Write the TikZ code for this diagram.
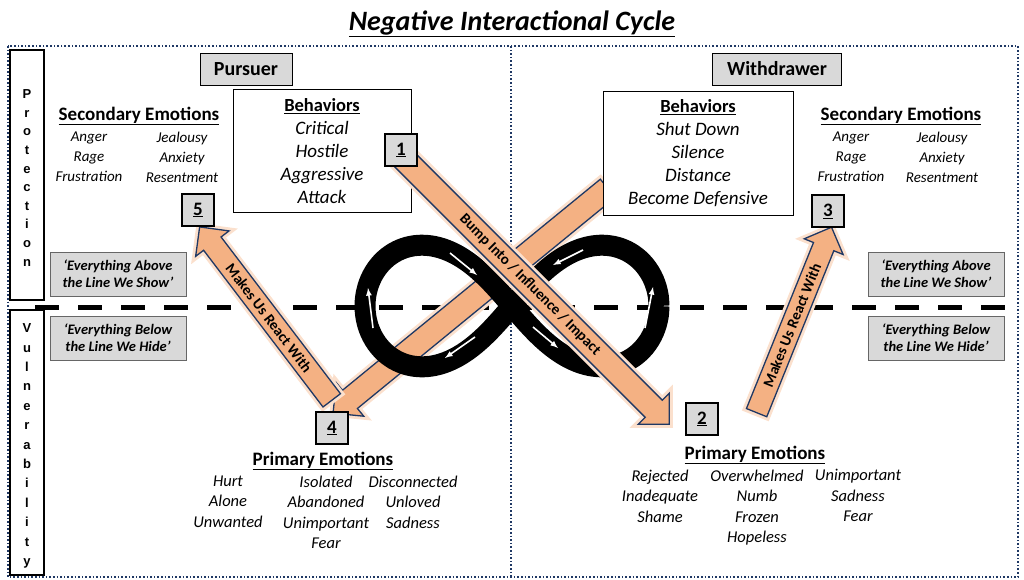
\documentclass[tikz,border=0pt]{standalone}
\usepackage{fontspec}
\setmainfont{Carlito}
\newfontfamily\blk{Liberation Sans}
\usetikzlibrary{shapes.arrows}
\definecolor{navy}{RGB}{31,56,100}
\definecolor{org}{RGB}{244,177,131}
\definecolor{gbox}{RGB}{217,217,217}
\begin{document}
\begin{tikzpicture}[x=1pt,y=-1pt,
 bx/.style={draw=black,line width=1pt},
 num/.style={draw=black,line width=1.2pt,fill=gbox,minimum size=32pt,inner sep=0pt,font=\fontsize{19}{19}\selectfont\bfseries},
 lab/.style={draw=black!60,fill=gbox,minimum width=136pt,minimum height=44pt,align=center,font=\fontsize{14.5}{17}\selectfont\itshape\bfseries},
 hd/.style={font=\fontsize{19}{19}\selectfont\bfseries},
 sec/.style={align=center,font=\fontsize{15}{20}\selectfont\itshape},
 pri/.style={align=center,font=\fontsize{16.5}{20.5}\selectfont\itshape,anchor=north},
 big/.style={single arrow,draw=navy,fill=org,line width=1.3pt,minimum width=0pt,single arrow head extend=10pt,single arrow tip angle=90,inner sep=5pt,
   font=\fontsize{15}{15}\selectfont\bfseries,preaction={draw=org!40,line width=7pt}},
 wa/.style={white,line width=1.6pt,-latex}]
\useasboundingbox (0,0) rectangle (1024,579);
\node[font=\fontsize{28}{28}\selectfont\bfseries\itshape] (title) at (512,24) {\underline{Negative Interactional Cycle}};
\draw[navy,dotted,line width=1.6pt] (8,46) rectangle (1018,577);
\draw[navy,dotted,line width=1.6pt] (511,46) -- (511,577);
% side boxes
\draw[line width=2pt] (10,50) rectangle (44,300);
\draw[line width=2pt] (10,310) rectangle (44,575);
\node[align=center,font=\blk\fontsize{13}{18.6}\selectfont\bfseries] (prot) at (27,178) {P\\r\\o\\t\\e\\c\\t\\i\\o\\n};
\node[align=center,font=\blk\fontsize{13}{19.4}\selectfont\bfseries] (vuln) at (27,446) {V\\u\\l\\n\\e\\r\\a\\b\\i\\l\\i\\t\\y};
% labels
\node[lab] (la1) at (118,274) {‘Everything Above\\the Line We Show’};
\node[lab] (lb1) at (118,338) {‘Everything Below\\the Line We Hide’};
\node[lab] (la2) at (936,274) {‘Everything Above\\the Line We Show’};
\node[lab] (lb2) at (936,338) {‘Everything Below\\the Line We Hide’};
\draw[line width=5pt,dash pattern=on 24pt off 19pt] (35,307) -- (1010,307);
% role boxes
\node[bx,fill=gbox,minimum width=92pt,minimum height=32pt,font=\fontsize{20}{20}\selectfont\bfseries] (pur) at (246,69) {Pursuer};
\node[bx,fill=gbox,minimum width=129pt,minimum height=32pt,font=\fontsize{20}{20}\selectfont\bfseries] (wit) at (777,69) {Withdrawer};
% arrow 2 (behind box)
\node[big,minimum height=355pt,rotate=219.3] (a2) at (475,297) {\phantom{Ag}};
% infinity
\draw[line width=21pt,black] plot[domain=0:360,samples=120,smooth cycle,variable=\t]
 ({512+147*cos(\t)/(1+sin(\t)^2)},{306+1.17*147*sin(\t)*cos(\t)/(1+sin(\t)^2)});
\draw[wa] (450,253) -- (477,275);
\draw[wa] (373,328) -- (368,288);
\draw[wa] (475,337) -- (445,358);
\draw[wa] (533,327) -- (558,348);
\draw[wa] (583,250) -- (553,265);
\draw[wa] (645,328) -- (653,287);
% behaviors boxes
\node[bx,fill=white,minimum width=178pt,minimum height=123pt,align=center,inner sep=0pt,font=\fontsize{19}{23}\selectfont\itshape] (bl) at (322,151)
 {\textup{\bfseries\fontsize{18.5}{18}\selectfont\underline{Behaviors}}\\Critical\\Hostile\\Aggressive\\Attack};
\node[bx,fill=white,minimum width=190pt,minimum height=124pt,align=center,inner sep=0pt,font=\fontsize{19}{23}\selectfont\itshape] (br) at (698,153)
 {\textup{\bfseries\fontsize{18.5}{18}\selectfont\underline{Behaviors}}\\Shut Down\\Silence\\Distance\\Become Defensive};
% arrow 1
\node[big,minimum height=382pt,rotate=-45] (a1) at (530,285) {Bump Into / Influence / Impact};
% makes us react arrows
\node[big,minimum height=218pt,rotate=-52.7,shape border rotate=180] (a5) at (269,318) {Makes Us React With};
\node[big,minimum height=200pt,rotate=68] (a3) at (792,325) {Makes Us React With};
% numbers
\node[num] (n1) at (401,150) {\underline{1}};
\node[num] (n2) at (702,419) {\underline{2}};
\node[num] (n3) at (828,211) {\underline{3}};
\node[num] (n4) at (332,428) {\underline{4}};
\node[num] (n5) at (198,210) {\underline{5}};
% secondary emotions
\node[hd] (sl) at (139,116) {\underline{Secondary Emotions}};
\node[sec] (sl1) at (89,157) {Anger\\Rage\\Frustration};
\node[sec] (sl2) at (182,157) {Jealousy\\Anxiety\\Resentment};
\node[hd] (sr) at (901,116) {\underline{Secondary Emotions}};
\node[sec] (sr1) at (851,157) {Anger\\Rage\\Frustration};
\node[sec] (sr2) at (942,157) {Jealousy\\Anxiety\\Resentment};
% primary emotions
\node[hd] (pl) at (323,461) {\underline{Primary Emotions}};
\node[pri] (pl1) at (228,472) {Hurt\\Alone\\Unwanted};
\node[pri] (pl2) at (326,472) {Isolated\\Abandoned\\Unimportant\\Fear};
\node[pri] (pl3) at (413,472) {Disconnected\\Unloved\\Sadness};
\node[hd] (pr) at (755,455) {\underline{Primary Emotions}};
\node[pri] (pr1) at (660,466) {Rejected\\Inadequate\\Shame};
\node[pri] (pr2) at (757,466) {Overwhelmed\\Numb\\Frozen\\Hopeless};
\node[pri] (pr3) at (858,466) {Unimportant\\Sadness\\Fear};
\end{tikzpicture}
\end{document}
